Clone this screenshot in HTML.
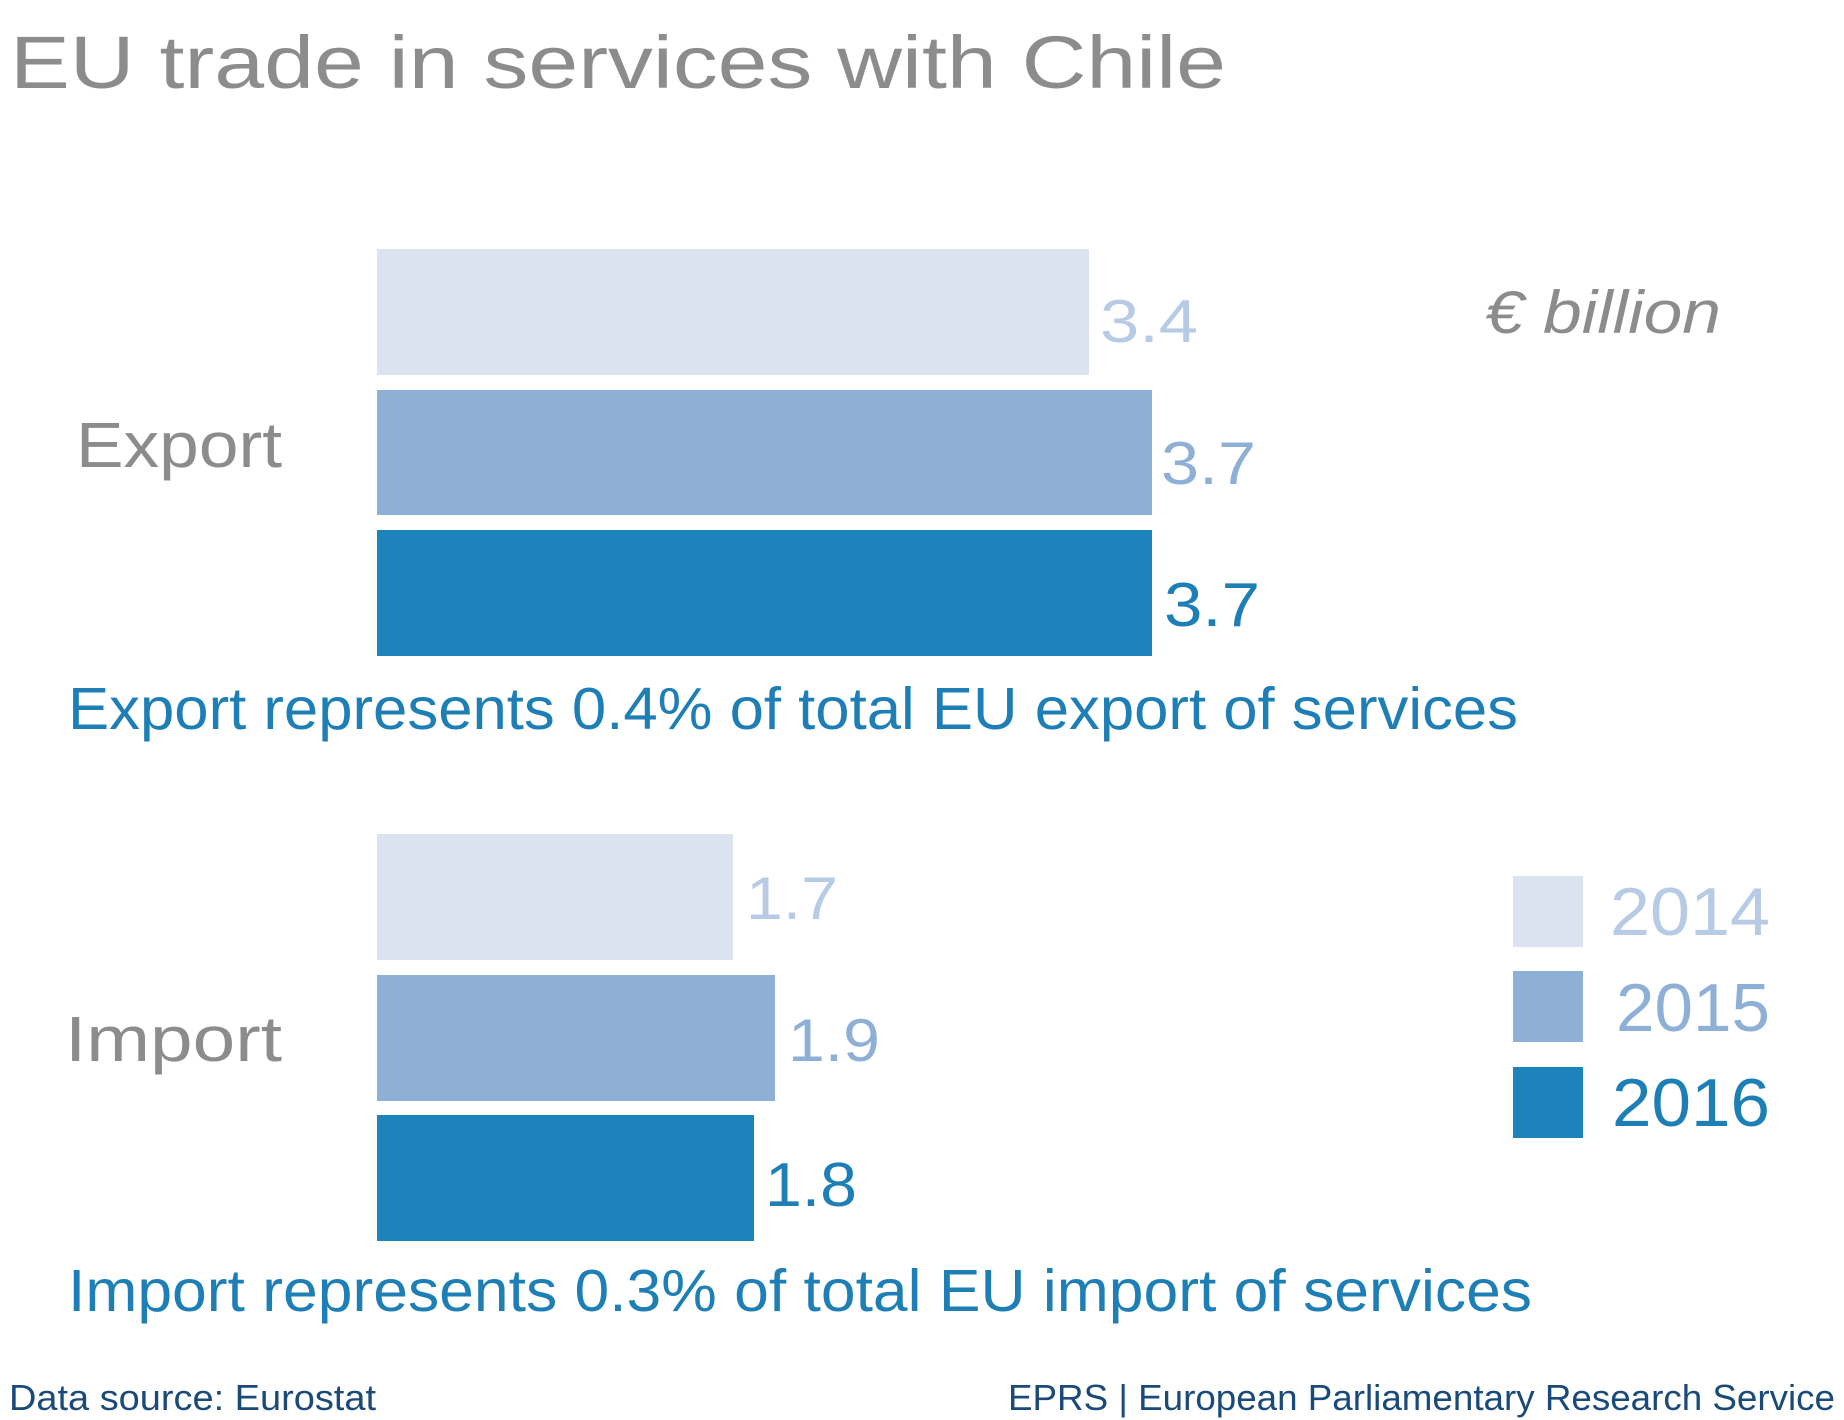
<!DOCTYPE html>
<html><head><meta charset="utf-8"><style>
html,body{margin:0;padding:0;background:#fff;}
svg{display:block;font-family:"Liberation Sans",sans-serif;}
</style></head><body>
<svg width="1844" height="1420" viewBox="0 0 1844 1420" xmlns="http://www.w3.org/2000/svg">
<text x="10" y="88" font-size="74" fill="#8c8c8c" textLength="1216" lengthAdjust="spacingAndGlyphs">EU trade in services with Chile</text>

<rect x="377" y="249" width="712" height="126" fill="#dce3f0"/>
<rect x="377" y="390" width="775" height="125" fill="#8fb0d6"/>
<rect x="377" y="530" width="775" height="126" fill="#1d84bb"/>
<text x="1100" y="342" font-size="60" fill="#b8cbe6" textLength="98" lengthAdjust="spacingAndGlyphs">3.4</text>
<text x="1161" y="484" font-size="60" fill="#8fb0d6" textLength="95" lengthAdjust="spacingAndGlyphs">3.7</text>
<text x="1164" y="626" font-size="62" fill="#1d7fb5" textLength="96" lengthAdjust="spacingAndGlyphs">3.7</text>
<text x="76" y="467" font-size="64" fill="#8c8c8c" textLength="206" lengthAdjust="spacingAndGlyphs">Export</text>
<text x="1485" y="333" font-size="60" font-style="italic" fill="#8c8c8c" textLength="236" lengthAdjust="spacingAndGlyphs">€ billion</text>
<text x="68" y="729" font-size="59" fill="#1d7fb5" textLength="1450" lengthAdjust="spacingAndGlyphs">Export represents 0.4% of total EU export of services</text>

<rect x="377" y="834" width="356" height="126" fill="#dce3f0"/>
<rect x="377" y="975" width="398" height="126" fill="#8fb0d6"/>
<rect x="377" y="1115" width="377" height="126" fill="#1d84bb"/>
<text x="746" y="919" font-size="60" fill="#b8cbe6" textLength="92" lengthAdjust="spacingAndGlyphs">1.7</text>
<text x="788" y="1061" font-size="60" fill="#8fb0d6" textLength="92" lengthAdjust="spacingAndGlyphs">1.9</text>
<text x="765" y="1206" font-size="62" fill="#1d7fb5" textLength="92" lengthAdjust="spacingAndGlyphs">1.8</text>
<text x="65" y="1061" font-size="64" fill="#8c8c8c" textLength="217" lengthAdjust="spacingAndGlyphs">Import</text>
<text x="68" y="1311" font-size="59" fill="#1d7fb5" textLength="1464" lengthAdjust="spacingAndGlyphs">Import represents 0.3% of total EU import of services</text>

<rect x="1513" y="876" width="70" height="71" fill="#dce3f0"/>
<rect x="1513" y="971" width="70" height="71" fill="#8fb0d6"/>
<rect x="1513" y="1067" width="70" height="71" fill="#1d84bb"/>
<text x="1770" y="935" font-size="68" fill="#b8cbe6" text-anchor="end" textLength="160" lengthAdjust="spacingAndGlyphs">2014</text>
<text x="1770" y="1031" font-size="68" fill="#8fb0d6" text-anchor="end" textLength="154" lengthAdjust="spacingAndGlyphs">2015</text>
<text x="1770" y="1126" font-size="68" fill="#1d7fb5" text-anchor="end" textLength="158" lengthAdjust="spacingAndGlyphs">2016</text>

<text x="9" y="1410" font-size="36" fill="#1a4a7a" textLength="367" lengthAdjust="spacingAndGlyphs">Data source: Eurostat</text>
<text x="1835" y="1410" font-size="36" fill="#1a4a7a" text-anchor="end" textLength="827" lengthAdjust="spacingAndGlyphs">EPRS | European Parliamentary Research Service</text>
</svg>
</body></html>
